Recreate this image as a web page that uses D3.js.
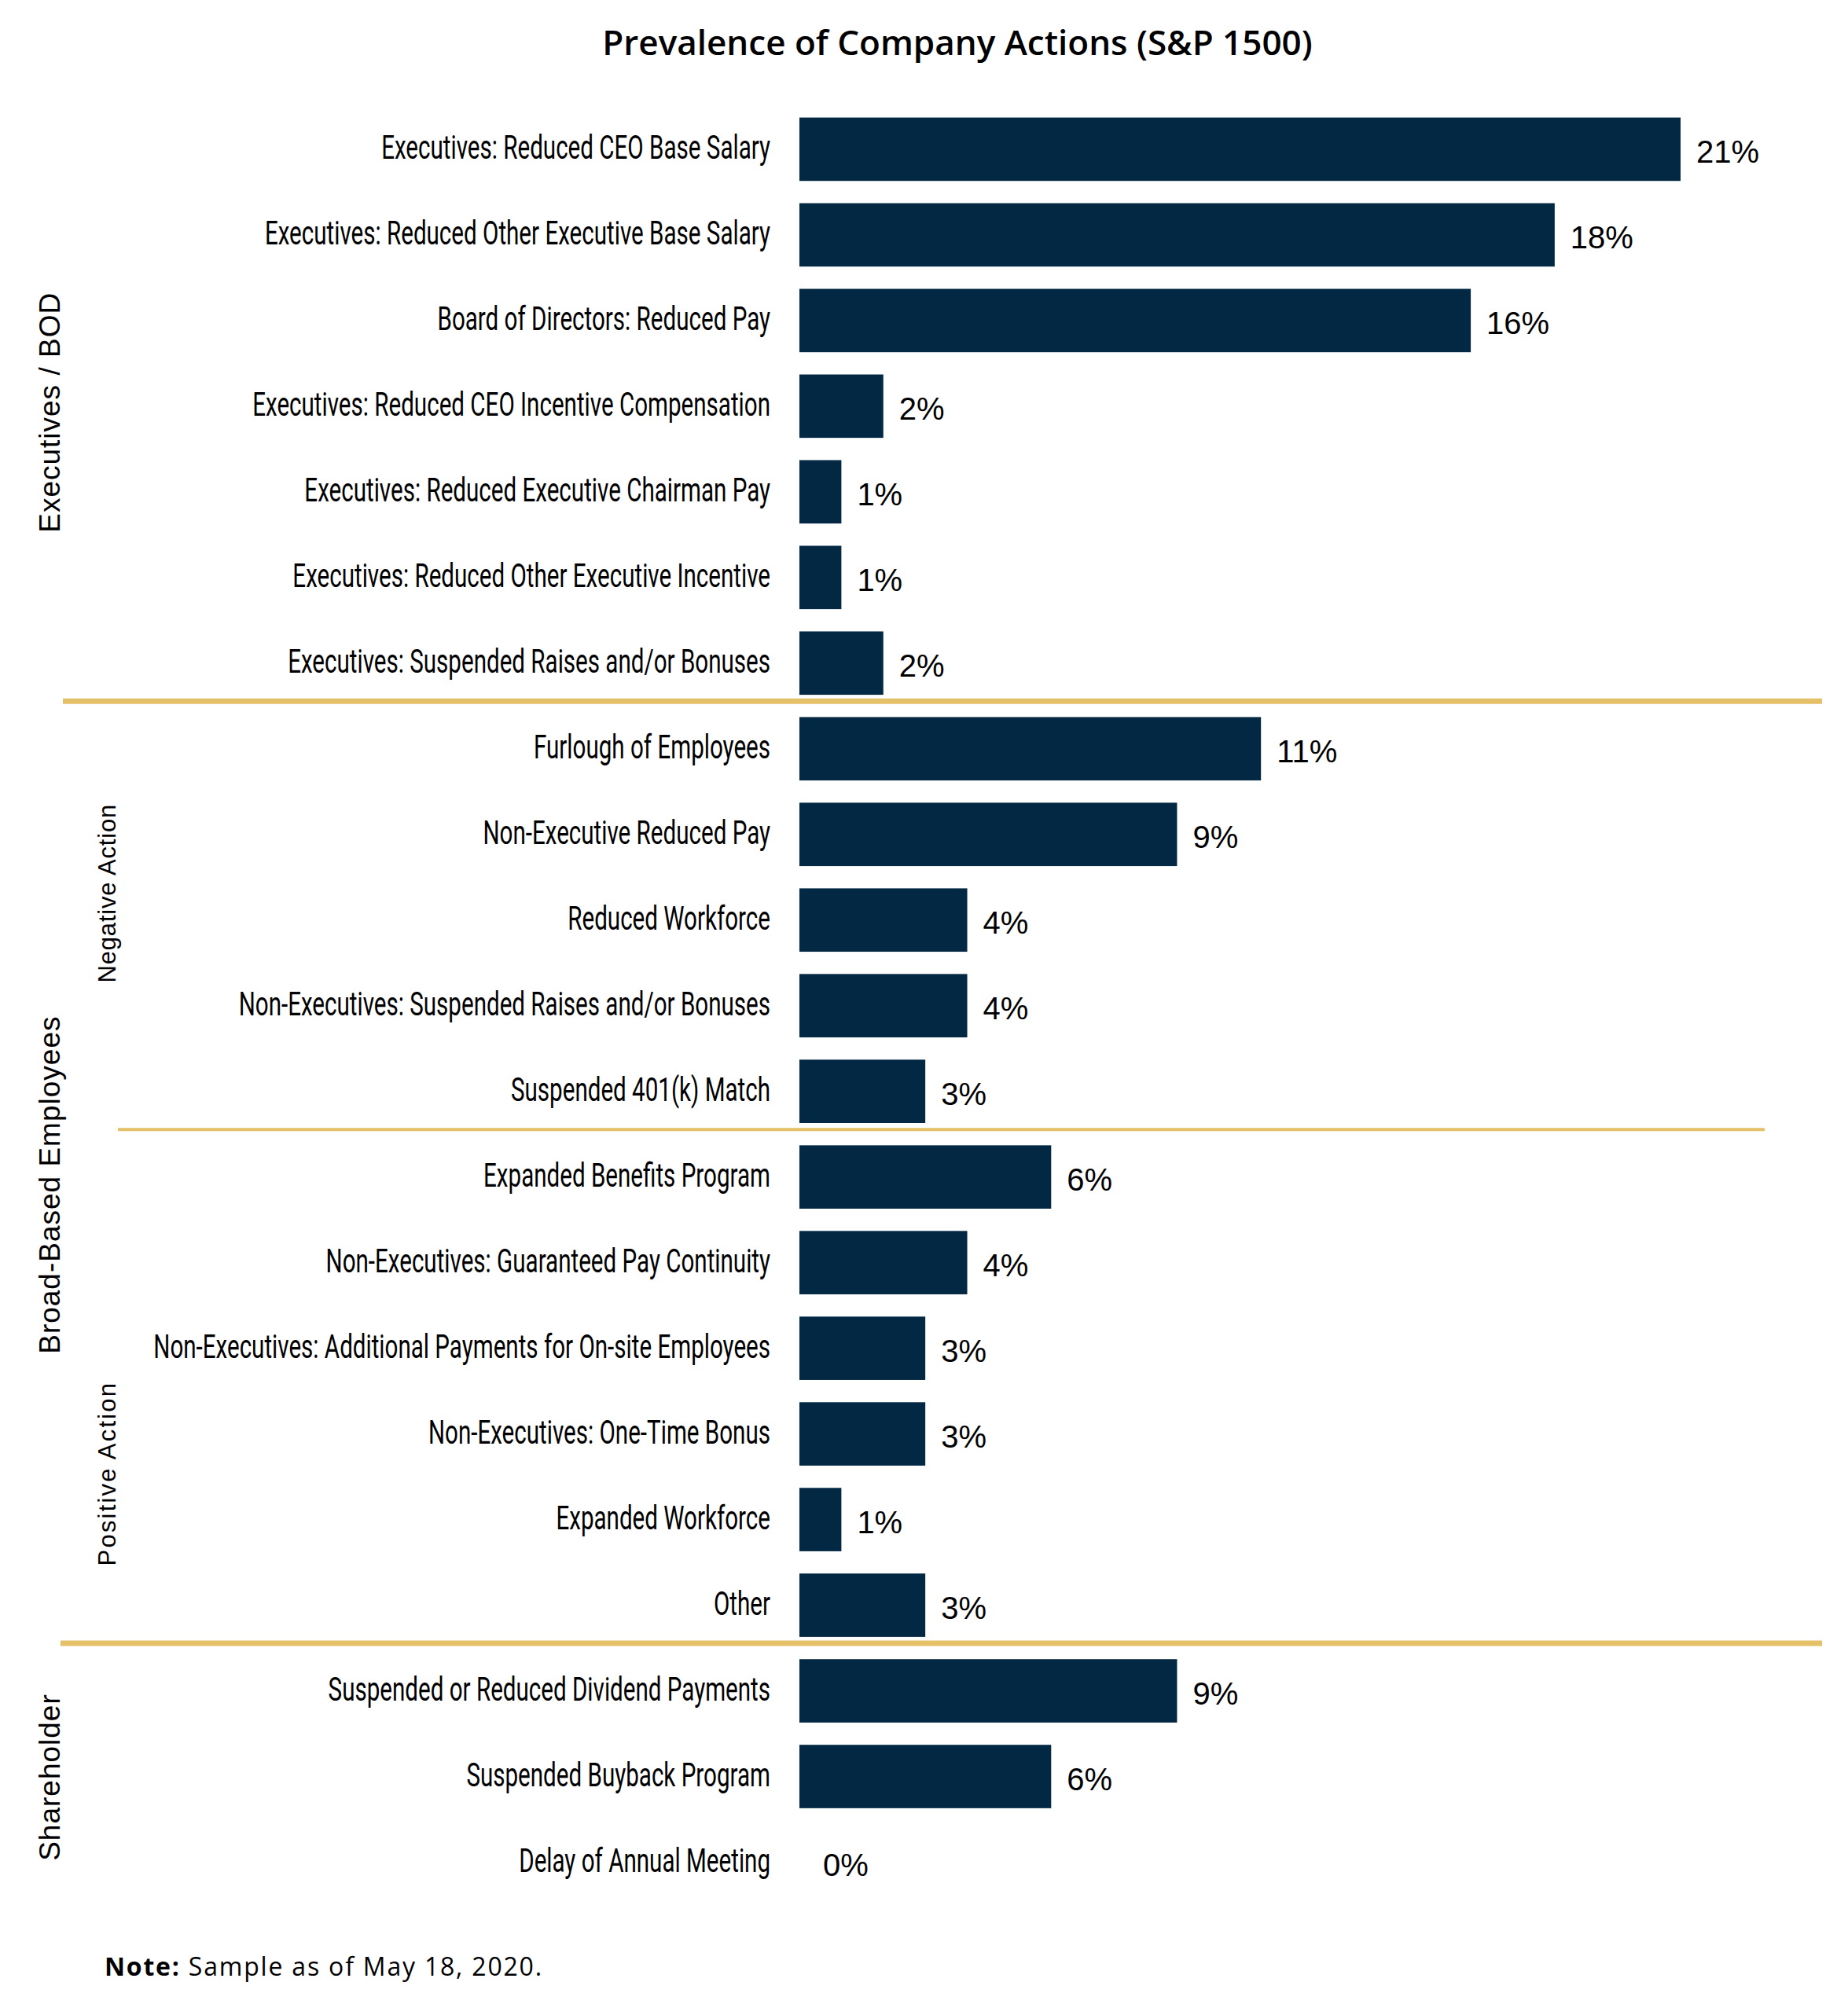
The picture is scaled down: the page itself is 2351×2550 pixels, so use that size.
<!DOCTYPE html>
<html>
<head>
<meta charset="utf-8">
<script src="https://cdn.jsdelivr.net/npm/d3@7"></script>
<style>
  html, body { margin: 0; padding: 0; background: #ffffff; }
  svg { display: block; }
</style>
</head>
<body>
<script>
// ---------------- data ----------------
const categories = [
  "Executives: Reduced CEO Base Salary",
  "Executives: Reduced Other Executive Base Salary",
  "Board of Directors: Reduced Pay",
  "Executives: Reduced CEO Incentive Compensation",
  "Executives: Reduced Executive Chairman Pay",
  "Executives: Reduced Other Executive Incentive",
  "Executives: Suspended Raises and/or Bonuses",
  "Furlough of Employees",
  "Non-Executive Reduced Pay",
  "Reduced Workforce",
  "Non-Executives: Suspended Raises and/or Bonuses",
  "Suspended 401(k) Match",
  "Expanded Benefits Program",
  "Non-Executives: Guaranteed Pay Continuity",
  "Non-Executives: Additional Payments for On-site Employees",
  "Non-Executives: One-Time Bonus",
  "Expanded Workforce",
  "Other",
  "Suspended or Reduced Dividend Payments",
  "Suspended Buyback Program",
  "Delay of Annual Meeting"
];
const values = [21, 18, 16, 2, 1, 1, 2, 11, 9, 4, 4, 3, 6, 4, 3, 3, 1, 3, 9, 6, 0];
const groups = ["Executives / BOD", "Broad-Based Employees", "Shareholder"];
const groupSizes = [7, 11, 3];
const subgroups = ["Negative Action", "Positive Action"];
const subgroupSizes = [5, 6];
const subgroupParent = "Broad-Based Employees";
const titleText = "Prevalence of Company Actions (S&P 1500)";
const noteLabel = "Note:";
const noteText = " Sample as of May 18, 2020.";

// ---------------- layout ----------------
const W = 2351, H = 2550;
const BAR = "#032844", GOLD = "#E4C168";
const svg = d3.select("body").append("svg")
  .attr("width", W).attr("height", H)
  .attr("viewBox", `0 0 ${W} ${H}`);
svg.append("rect").attr("width", W).attr("height", H).attr("fill", "#fff");

const y = d3.scaleBand().domain(categories)
  .range([135.4, 2424]).paddingInner(0.26).paddingOuter(0.13);
const x = d3.scaleLinear().domain([0, 21]).range([1017, 2138]);
const bw = y.bandwidth(), step = y.step();

// title
svg.append("text")
  .attr("x", 1218).attr("y", 70)
  .attr("text-anchor", "middle")
  .attr("font-family", "'Open Sans', Lato, sans-serif")
  .attr("font-weight", 600)
  .attr("font-size", 44)
  .attr("fill", "#000")
  .text(titleText);

// bars
const rows = categories.map((c, i) => ({ c, v: values[i] }));
svg.append("g").selectAll("rect").data(rows).join("rect")
  .attr("x", x(0))
  .attr("y", d => y(d.c))
  .attr("width", d => x(d.v) - x(0))
  .attr("height", bw)
  .attr("fill", BAR);

// value labels
svg.append("g").selectAll("text").data(rows).join("text")
  .attr("x", d => x(d.v) + (d.v === 0 ? 30 : 20))
  .attr("y", d => y(d.c) + bw / 2 + 17)
  .attr("font-family", "'Liberation Sans', Arial, sans-serif")
  .attr("font-size", 40)
  .attr("fill", "#000")
  .text(d => d.v + "%");

// category axis (labels)
const axisG = svg.append("g")
  .attr("transform", `translate(${x(0)},0)`)
  .call(d3.axisLeft(y).tickSize(0).tickPadding(37));
axisG.select(".domain").remove();
const labels = axisG.selectAll(".tick text")
  .attr("font-family", "Roboto, 'Liberation Sans', sans-serif")
  .attr("font-size", 42)
  .attr("fill", "#000")
  .attr("dy", "0.29em");
// condensed look: compress horizontally
const natural = labels.nodes()[0].getComputedTextLength();
const k = 495 / natural;
labels.attr("x", -37 / k).attr("transform", `scale(${k},1)`);

// group spans
function spans(names, sizes, startIndex) {
  let idx = startIndex;
  return names.map((n, j) => {
    const first = idx, last = idx + sizes[j] - 1;
    idx += sizes[j];
    return { name: n, first, last };
  });
}
const groupSpans = spans(groups, groupSizes, 0);
const parent = groupSpans.find(g => g.name === subgroupParent);
const subSpans = spans(subgroups, subgroupSizes, parent.first);

const labelOffset = {
  "Executives / BOD": 8, "Broad-Based Employees": 10, "Shareholder": 1,
  "Negative Action": -34, "Positive Action": 105
};
const spacing = { "Negative Action": 0.8, "Positive Action": 2.2 };
const centerOf = s => (y(categories[s.first]) + y(categories[s.last]) + bw) / 2 + labelOffset[s.name];

svg.append("g").selectAll("text").data(groupSpans).join("text")
  .attr("transform", d => `translate(76,${centerOf(d)}) rotate(-90)`)
  .attr("text-anchor", "middle")
  .attr("font-family", "'Liberation Sans', Arial, sans-serif")
  .attr("font-size", 37)
  .attr("letter-spacing", 1)
  .attr("fill", "#000")
  .text(d => d.name);

svg.append("g").selectAll("text").data(subSpans).join("text")
  .attr("transform", d => `translate(147,${centerOf(d)}) rotate(-90)`)
  .attr("text-anchor", "middle")
  .attr("font-family", "'Liberation Sans', Arial, sans-serif")
  .attr("font-size", 31)
  .attr("letter-spacing", d => spacing[d.name])
  .attr("fill", "#000")
  .text(d => d.name);

// separators
const sepY = s => y(categories[s.last]) + bw + (step - bw) / 2 - 6;
const seps = [
  { yy: sepY(groupSpans[0]), x1: 80, x2: 2318, w: 7 },
  { yy: sepY(subSpans[0]), x1: 150, x2: 2245, w: 4 },
  { yy: sepY(groupSpans[1]), x1: 77, x2: 2318, w: 7 }
];
svg.append("g").selectAll("line").data(seps).join("line")
  .attr("x1", d => d.x1).attr("x2", d => d.x2)
  .attr("y1", d => d.yy).attr("y2", d => d.yy)
  .attr("stroke", GOLD).attr("stroke-width", d => d.w);

// note
const note = svg.append("text")
  .attr("x", 133).attr("y", 2514)
  .attr("font-family", "'Open Sans', Lato, sans-serif")
  .attr("font-size", 32)
  .attr("letter-spacing", 1.8)
  .attr("fill", "#000");
note.append("tspan").attr("font-weight", 700).text(noteLabel);
note.append("tspan").text(noteText);
</script>
</body>
</html>
